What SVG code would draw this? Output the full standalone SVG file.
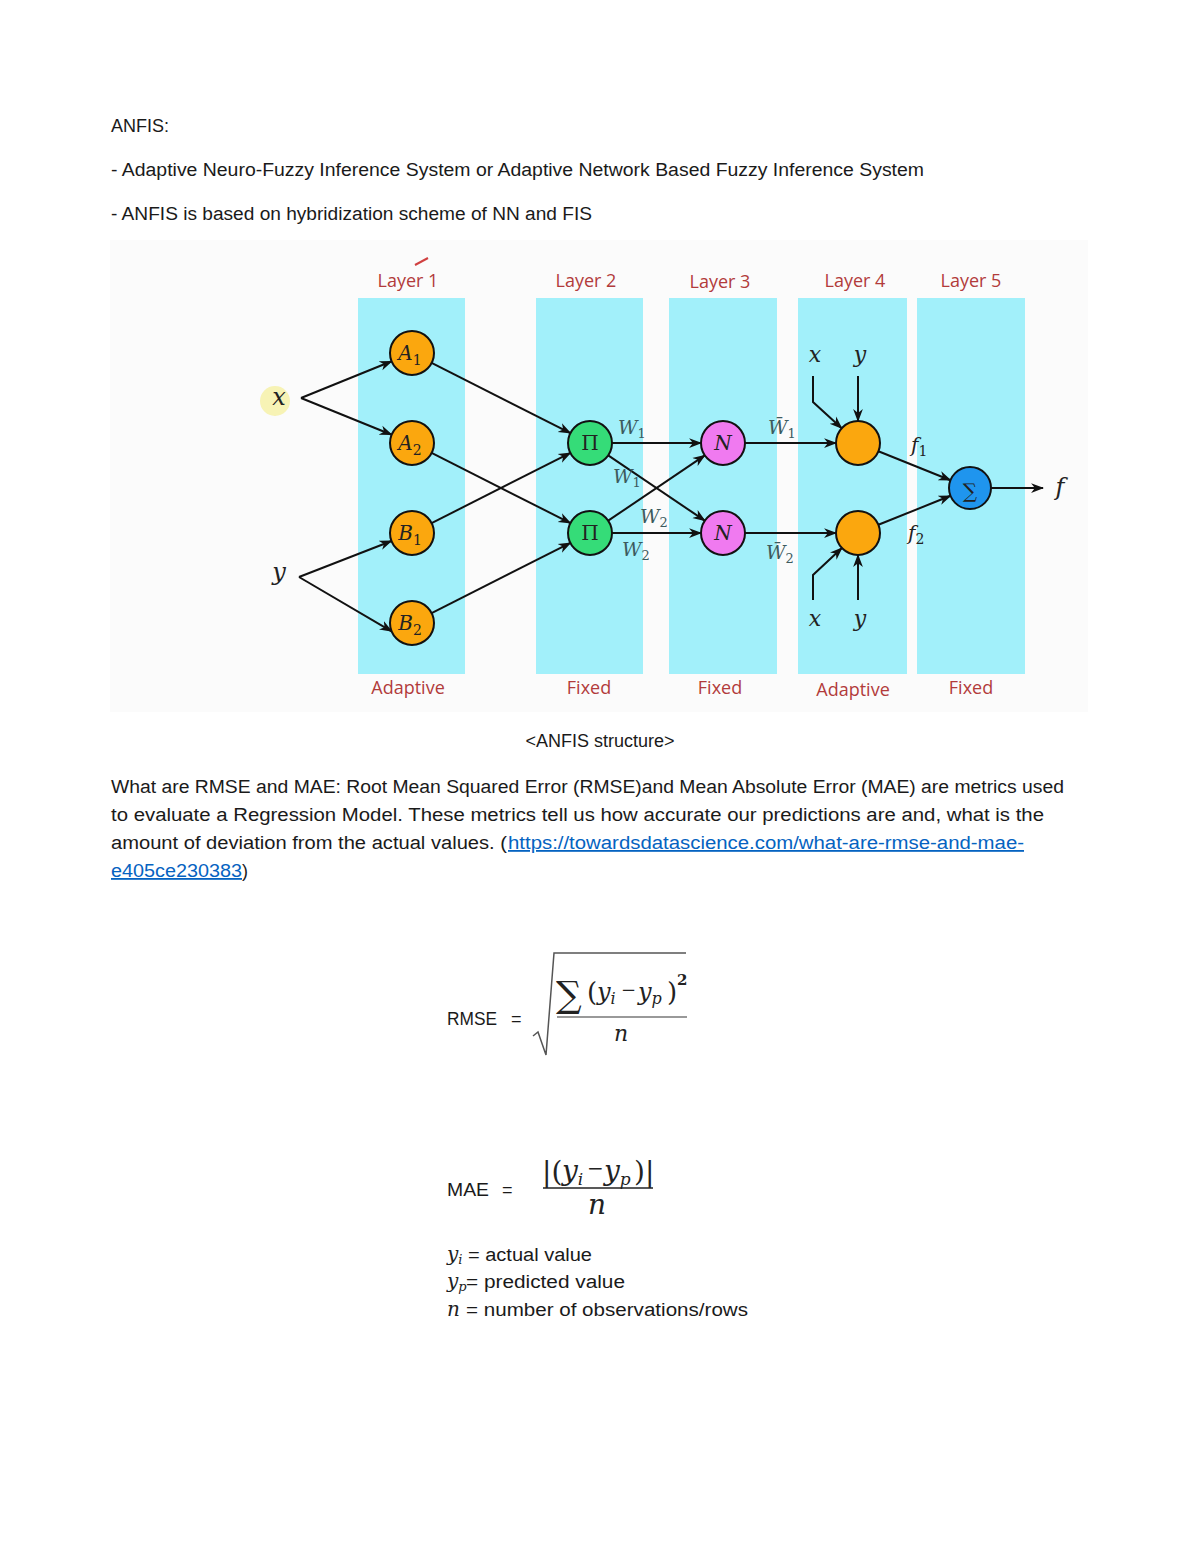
<svg xmlns="http://www.w3.org/2000/svg" width="1200" height="1553" viewBox="0 0 1200 1553">
<style>
.t{font-family:"Liberation Sans","Open Sans",sans-serif;font-size:18px;fill:#1a1a1a}
.lay{font-family:"Open Sans","Liberation Sans",sans-serif;font-size:18px;fill:#b23b3b;text-anchor:middle}
.col{fill:#a2f0fa}
.m{font-family:"DejaVu Serif","Liberation Serif",serif;font-style:italic;fill:#222}
.wl{font-family:"DejaVu Serif","Liberation Serif",serif;font-style:italic;font-size:19px;fill:#3d5a5e}
.nd{stroke:#111;stroke-width:2}
.ct{font-family:"DejaVu Serif","Liberation Serif",serif;font-size:20px;fill:#222;text-anchor:middle}
.c line,.c polyline{stroke:#111;stroke-width:2;fill:none;marker-end:url(#ah)}
.link{fill:#0563c1;text-decoration:underline}
.mth{font-family:"DejaVu Serif","Liberation Serif",serif;font-style:italic;fill:#222}
.up{font-style:normal}
</style>
<defs>
<marker id="ah" viewBox="0 0 12 10" refX="11" refY="5" markerWidth="13" markerHeight="11" markerUnits="userSpaceOnUse" orient="auto">
<path d="M0,0.5 L12,5 L0,9.5 L3.5,5 z" fill="#111"/>
</marker>
</defs>
<rect width="1200" height="1553" fill="#ffffff"/>

<g id="header">
<text class="t" x="111" y="132" textLength="58" lengthAdjust="spacingAndGlyphs">ANFIS:</text>
<text class="t" x="111" y="176" textLength="813" lengthAdjust="spacingAndGlyphs">- Adaptive Neuro-Fuzzy Inference System or Adaptive Network Based Fuzzy Inference System</text>
<text class="t" x="111" y="220" textLength="481" lengthAdjust="spacingAndGlyphs">- ANFIS is based on hybridization scheme of NN and FIS</text>
</g>

<g id="diagram-bg">
<rect x="110" y="240" width="978" height="472" fill="#fbfbfb"/>
<rect class="col" x="358" y="298" width="107" height="376"/>
<rect class="col" x="536" y="298" width="107" height="376"/>
<rect class="col" x="669" y="298" width="108" height="376"/>
<rect class="col" x="798" y="298" width="109" height="376"/>
<rect class="col" x="917" y="298" width="108" height="376"/>
<path d="M415,265 L428,258" stroke="#d04040" stroke-width="2" fill="none"/>
<text class="lay" x="408" y="287">Layer 1</text>
<text class="lay" x="586" y="287">Layer 2</text>
<text class="lay" x="720" y="288">Layer 3</text>
<text class="lay" x="855" y="287">Layer 4</text>
<text class="lay" x="971" y="287">Layer 5</text>
<text class="lay" x="408" y="694">Adaptive</text>
<text class="lay" x="589" y="694">Fixed</text>
<text class="lay" x="720" y="694">Fixed</text>
<text class="lay" x="853" y="696">Adaptive</text>
<text class="lay" x="971" y="694">Fixed</text>
</g>

<g id="connectors" class="c">
<line x1="301" y1="398" x2="391.6" y2="361.3"/>
<line x1="301" y1="398" x2="391.6" y2="434.7"/>
<line x1="299" y1="577" x2="391.5" y2="541"/>
<line x1="299" y1="577" x2="391.6" y2="631.3"/>
<line x1="431.6" y1="362.9" x2="570.4" y2="433.1"/>
<line x1="431.6" y1="452.9" x2="570.4" y2="523.1"/>
<line x1="431.6" y1="523.1" x2="570.4" y2="452.9"/>
<line x1="431.6" y1="613.1" x2="570.4" y2="542.9"/>
<line x1="612" y1="443" x2="701" y2="443"/>
<line x1="612" y1="533" x2="701" y2="533"/>
<line x1="608.2" y1="455.3" x2="704.8" y2="520.7"/>
<line x1="608.2" y1="520.7" x2="704.8" y2="455.3"/>
<line x1="745" y1="443" x2="836" y2="443"/>
<line x1="745" y1="533" x2="836" y2="533"/>
<line x1="878.4" y1="451.2" x2="950.5" y2="480.2"/>
<line x1="878.4" y1="524.8" x2="950.5" y2="495.8"/>
<line x1="991" y1="488" x2="1043" y2="488"/>
<polyline points="813,376 813,402 841.7,428.2"/>
<line x1="858" y1="376" x2="858" y2="421"/>
<polyline points="813,600 813,575 841.9,548"/>
<line x1="858" y1="600" x2="858" y2="555"/>
</g>

<g id="input-x">
<circle cx="275" cy="401" r="15" fill="#f6f1a8" opacity="0.85"/>
<text class="m" x="279" y="405" font-size="24" text-anchor="middle">x</text>
</g>
<g id="input-y"><text class="m" x="279" y="580" font-size="24" text-anchor="middle">y</text></g>

<g id="A1"><circle class="nd" cx="412" cy="353" r="22" fill="#fba70e"/><text class="ct" x="410" y="360"><tspan font-style="italic">A</tspan><tspan font-size="14" dy="5">1</tspan></text></g>
<g id="A2"><circle class="nd" cx="412" cy="443" r="22" fill="#fba70e"/><text class="ct" x="410" y="450"><tspan font-style="italic">A</tspan><tspan font-size="14" dy="5">2</tspan></text></g>
<g id="B1"><circle class="nd" cx="412" cy="533" r="22" fill="#fba70e"/><text class="ct" x="410" y="540"><tspan font-style="italic">B</tspan><tspan font-size="14" dy="5">1</tspan></text></g>
<g id="B2"><circle class="nd" cx="412" cy="623" r="22" fill="#fba70e"/><text class="ct" x="410" y="630"><tspan font-style="italic">B</tspan><tspan font-size="14" dy="5">2</tspan></text></g>

<g id="P1"><circle class="nd" cx="590" cy="443" r="22" fill="#35dc78"/><text class="ct" x="590" y="450">Π</text></g>
<g id="P2"><circle class="nd" cx="590" cy="533" r="22" fill="#35dc78"/><text class="ct" x="590" y="540">Π</text></g>

<g id="N1"><circle class="nd" cx="723" cy="443" r="22" fill="#f07af0"/><text class="ct" x="723" y="450" font-style="italic">N</text></g>
<g id="N2"><circle class="nd" cx="723" cy="533" r="22" fill="#f07af0"/><text class="ct" x="723" y="540" font-style="italic">N</text></g>

<g id="L4a"><circle class="nd" cx="858" cy="443" r="22" fill="#fba70e"/></g>
<g id="L4b"><circle class="nd" cx="858" cy="533" r="22" fill="#fba70e"/></g>

<g id="Sum"><circle class="nd" cx="970" cy="488" r="21" fill="#1f95ee"/><text class="ct" x="970" y="498" font-size="27">∑</text></g>

<g id="labels">
<text class="m" x="815" y="362" font-size="22" text-anchor="middle">x</text>
<text class="m" x="860" y="362" font-size="22" text-anchor="middle">y</text>
<text class="m" x="815" y="626" font-size="22" text-anchor="middle">x</text>
<text class="m" x="860" y="626" font-size="22" text-anchor="middle">y</text>
<text class="m" x="1060" y="495" font-size="24" text-anchor="middle">f</text>
<text class="m" x="911" y="452" font-size="20">f<tspan class="up" font-size="14" dy="4">1</tspan></text>
<text class="m" x="908" y="540" font-size="20">f<tspan class="up" font-size="14" dy="4">2</tspan></text>
<text class="wl" x="618" y="434">W<tspan class="up" font-size="13" dy="4">1</tspan></text>
<text class="wl" x="613" y="483">W<tspan class="up" font-size="13" dy="4">1</tspan></text>
<text class="wl" x="640" y="523">W<tspan class="up" font-size="13" dy="4">2</tspan></text>
<text class="wl" x="622" y="556">W<tspan class="up" font-size="13" dy="4">2</tspan></text>
<text class="wl" x="768" y="434">W̄<tspan class="up" font-size="13" dy="4">1</tspan></text>
<text class="wl" x="766" y="559">W̄<tspan class="up" font-size="13" dy="4">2</tspan></text>
</g>

<g id="caption">
<text class="t" x="600" y="747" text-anchor="middle">&lt;ANFIS structure&gt;</text>
</g>

<g id="paragraph">
<text class="t" x="111" y="793" textLength="953" lengthAdjust="spacingAndGlyphs">What are RMSE and MAE: Root Mean Squared Error (RMSE)and Mean Absolute Error (MAE) are metrics used</text>
<text class="t" x="111" y="821" textLength="933" lengthAdjust="spacingAndGlyphs">to evaluate a Regression Model. These metrics tell us how accurate our predictions are and, what is the</text>
<text class="t" x="111" y="849" textLength="396" lengthAdjust="spacingAndGlyphs">amount of deviation from the actual values. (</text>
<text class="t link" x="508" y="849" textLength="516" lengthAdjust="spacingAndGlyphs">https://towardsdatascience.com/what-are-rmse-and-mae-</text>
<text class="t link" x="111" y="877" textLength="131" lengthAdjust="spacingAndGlyphs">e405ce230383</text>
<text class="t" x="242" y="877"> )</text>
</g>

<g id="rmse">
<text class="t" x="447" y="1025" textLength="50" lengthAdjust="spacingAndGlyphs">RMSE</text>
<text class="t" x="511" y="1025">=</text>
<path d="M533,1036 L538,1032 L546,1055 L554,953 L686,953" stroke="#555" stroke-width="1.5" fill="none"/>
<line x1="557" y1="1017" x2="687" y2="1017" stroke="#777" stroke-width="1.3"/>
<text class="mth up" x="556" y="1007" font-size="36">∑</text>
<text class="mth up" x="587" y="1001" font-size="26">(</text>
<text class="mth" x="597" y="1000" font-size="24">y<tspan font-size="16" dy="4">i</tspan></text>
<text class="mth up" x="621" y="996" font-size="18">−</text>
<text class="mth" x="638" y="1000" font-size="24">y<tspan font-size="16" dy="4">p</tspan></text>
<text class="mth up" x="667" y="1001" font-size="26">)</text>
<text class="mth up" x="677" y="985" font-size="15" font-weight="bold">2</text>
<text class="mth" x="621" y="1041" font-size="22" text-anchor="middle">n</text>
</g>

<g id="mae">
<text class="t" x="447" y="1196" textLength="42" lengthAdjust="spacingAndGlyphs">MAE</text>
<text class="t" x="502" y="1196">=</text>
<text class="mth up" x="542" y="1181" font-size="28">|(</text>
<text class="mth" x="562" y="1180" font-size="28">y<tspan font-size="17" dy="5">i</tspan></text>
<text class="mth up" x="587" y="1175" font-size="20">−</text>
<text class="mth" x="604" y="1180" font-size="28">y<tspan font-size="17" dy="5">p</tspan></text>
<text class="mth up" x="634" y="1181" font-size="28">)|</text>
<line x1="543" y1="1188" x2="653" y2="1188" stroke="#222" stroke-width="1.5"/>
<text class="mth" x="597" y="1214" font-size="28" text-anchor="middle">n</text>
</g>

<g id="legend">
<text class="mth" x="447" y="1261" font-size="20">y<tspan font-size="13" dy="3">i</tspan></text>
<text class="t" x="468" y="1261" textLength="124" lengthAdjust="spacingAndGlyphs">= actual value</text>
<text class="mth" x="447" y="1288" font-size="20">y<tspan font-size="13" dy="3">p</tspan></text>
<text class="t" x="466" y="1288" textLength="159" lengthAdjust="spacingAndGlyphs">= predicted value</text>
<text class="mth" x="447" y="1316" font-size="20">n</text>
<text class="t" x="466" y="1316" textLength="282" lengthAdjust="spacingAndGlyphs">= number of observations/rows</text>
</g>
</svg>
